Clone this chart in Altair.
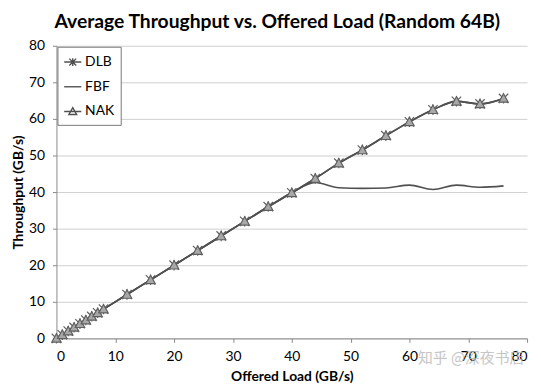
import altair as alt
import pandas as pd

load = [0, 1, 2, 3, 4, 5, 6, 7, 8, 12, 16, 20, 24, 28, 32, 36, 40, 44, 48, 52, 56, 60, 64, 68, 72, 76]
dlb = [0, 1, 2, 3, 4, 5, 6, 7, 8, 12, 16, 20, 24, 28, 32, 36, 39.8, 43.7, 47.9, 51.5, 55.4, 59.2, 62.5, 64.8, 64.1, 65.6]
fbf = [0, 1, 2, 3, 4, 5, 6, 7, 8, 12, 16, 20, 24, 28, 32, 36, 39.8, 42.6, 41.2, 41.0, 41.1, 41.9, 40.7, 41.9, 41.3, 41.7]
nak = [0, 1, 2, 3, 4, 5, 6, 7, 8, 12, 16, 20, 24, 28, 32, 36, 39.8, 43.7, 47.9, 51.5, 55.4, 59.2, 62.5, 64.8, 64.1, 65.6]
series = ["DLB", "FBF", "NAK"]
ticks = [0, 10, 20, 30, 40, 50, 60, 70, 80]
watermark = ["知乎 @深夜书店"]

rows = []
for name, vals in zip(series, [dlb, fbf, nak]):
    for x, y in zip(load, vals):
        rows.append({"load": x, "tp": y, "series": name})
df = pd.DataFrame(rows)
pts = df[df["series"] != "FBF"]

star = "M-1,-1L1,1M-1,1L1,-1M0,-1.1L0,1.1"
tri = "M0,-1L1,0.8L-1,0.8Z"
leg_star = "M-1,0L1,0M-0.4,-0.4L0.4,0.4M-0.4,0.4L0.4,-0.4M0,-0.45L0,0.45"
leg_line = "M-1,0L1,0"
leg_tri = "M-1,0L1,0M0,-0.45L0.45,0.35L-0.45,0.35Z"

FONT = "Lato"

xax = alt.Axis(values=ticks, title="Offered Load (GB/s)", grid=False, labelPadding=7, titlePadding=7)
yax = alt.Axis(values=ticks, title="Throughput (GB/s)", grid=True, labelPadding=8, titlePadding=3)
xs = alt.Scale(domain=[0, 80], nice=False)
ys = alt.Scale(domain=[0, 80], nice=False)


def X(field):
    return alt.X(field, scale=xs, axis=xax)


def Y(field):
    return alt.Y(field, scale=ys, axis=yax)


lines = alt.Chart(df).mark_line(interpolate="monotone", color="#505050", strokeWidth=1.6).encode(
    x=X("load:Q"), y=Y("tp:Q"), detail="series:N"
)

points = alt.Chart(pts).mark_point(filled=False, fill="#a8a8a8", stroke="#606060",
                                   strokeWidth=1.2, opacity=1, size=90).encode(
    x=X("load:Q"), y=Y("tp:Q"),
    shape=alt.Shape("series:N", scale=alt.Scale(domain=["DLB", "NAK"], range=[star, tri]), legend=None),
)

legend_layer = alt.Chart(df).mark_point(opacity=0, size=300).encode(
    x=X("load:Q"), y=Y("tp:Q"),
    shape=alt.Shape("series:N",
                    scale=alt.Scale(domain=series, range=[leg_star, leg_line, leg_tri]),
                    legend=alt.Legend(title=None, orient="top-left", offset=1,
                                      strokeColor="#777", fillColor="white", padding=6,
                                      symbolOpacity=1, symbolFillColor="#a8a8a8",
                                      symbolStrokeColor="#505050", symbolStrokeWidth=1.4,
                                      symbolSize=300, labelFontSize=14, labelFont=FONT,
                                      labelColor="black", rowPadding=8, labelOffset=3)),
)

wm = alt.Chart(pd.DataFrame({"t": watermark, "x": [70.5], "y": [-5.5]})).mark_text(
    font="Noto Sans CJK SC", fontSize=15, color="#b8b8b8", opacity=0.8
).encode(x=X("x:Q"), y=Y("y:Q"), text="t:N")

chart = alt.layer(lines, points, legend_layer, wm).resolve_scale(shape="independent").properties(
    width=476, height=296,
    padding={"left": 3, "top": 2, "right": 5, "bottom": 2},
    title=alt.TitleParams("Average Throughput vs. Offered Load (Random 64B)", font=FONT,
                          fontSize=19.5, fontWeight="bold", anchor="start", frame="group",
                          dx=-2, color="black", offset=6),
).configure_axis(
    labelFont=FONT, labelFontSize=14, labelColor="black",
    titleFont=FONT, titleFontSize=14, titleFontWeight="bold", titleColor="black",
    domainColor="#8a8a8a", tickColor="#8a8a8a", gridColor="#cfcfcf", tickSize=4,
).configure_view(stroke=None)

chart.save("out.html", embed_options={"renderer": "svg", "actions": False})
